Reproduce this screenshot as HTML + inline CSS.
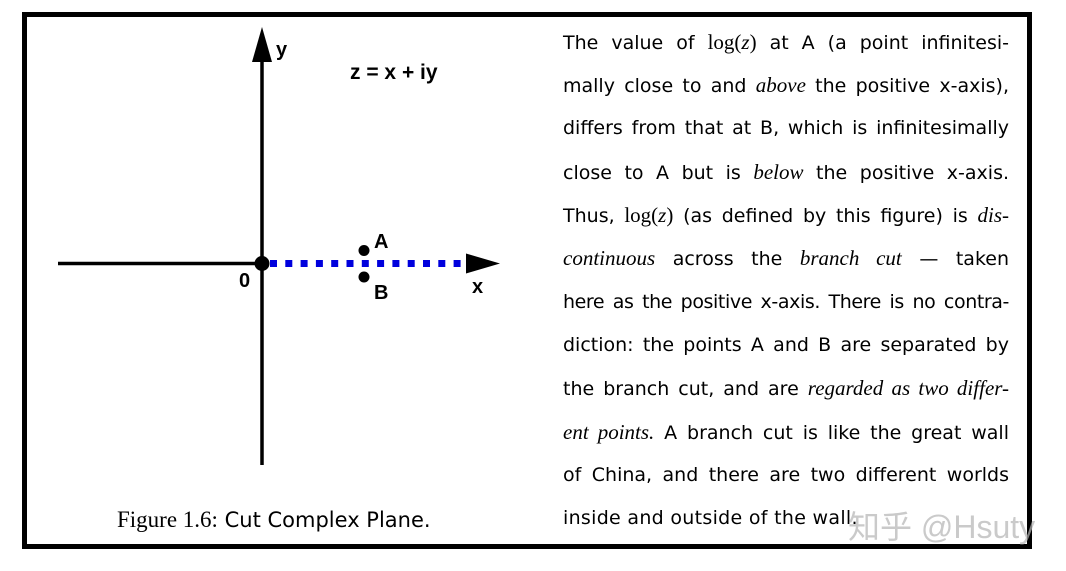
<!DOCTYPE html>
<html><head><meta charset="utf-8"><style>
html,body{margin:0;padding:0;background:#fff;width:1066px;height:571px;overflow:hidden;position:relative}
.frame{position:absolute;left:22px;top:12px;width:1000px;height:527px;border:5px solid #000}
.t{position:absolute;left:563px;width:446px;font-family:"DejaVu Sans","Liberation Sans",sans-serif;font-size:19px;color:#000;text-align:justify;text-align-last:justify;white-space:nowrap;line-height:24px}
.t i{font-family:"Liberation Serif",serif;font-size:21px}
.m{font-family:"Liberation Serif",serif;font-size:21px}
.lbl{position:absolute;font-family:"Liberation Sans",sans-serif;font-weight:bold;font-size:20px}
</style></head><body>
<div class="frame"></div>
<svg width="1066" height="571" style="position:absolute;left:0;top:0">
<line x1="262" y1="50" x2="262" y2="465" stroke="#000" stroke-width="3.5"/>
<polygon points="262,27 252,62 272,62" fill="#000"/>
<line x1="58" y1="263.5" x2="262" y2="263.5" stroke="#000" stroke-width="3.5"/>
<line x1="270" y1="263.5" x2="462" y2="263.5" stroke="#0000dd" stroke-width="7" stroke-dasharray="7,8.3"/>
<polygon points="500,263.5 466,253.5 466,273.5" fill="#000"/>
<circle cx="262" cy="263.5" r="7.5" fill="#000"/>
<circle cx="364" cy="250.5" r="5.5" fill="#000"/>
<circle cx="364" cy="277" r="5.5" fill="#000"/>
</svg>
<div class="lbl" style="left:276px;top:39px">y</div>
<div class="lbl" style="left:350px;top:61px;font-size:21px">z = x + iy</div>
<div class="lbl" style="left:374px;top:231px">A</div>
<div class="lbl" style="left:374px;top:282px">B</div>
<div class="lbl" style="left:239px;top:270px">0</div>
<div class="lbl" style="left:472px;top:276px">x</div>
<div style="position:absolute;left:117px;top:507px;font-family:'DejaVu Sans',sans-serif;font-size:21px;white-space:nowrap"><span class="m" style="font-size:23px">Figure 1.6:</span> Cut Complex Plane.</div>
<div class="t" style="top:30px">The value of <span class="m">log(<i>z</i>)</span> at A (a point infinitesi-</div>
<div class="t" style="top:73px">mally close to and <i>above</i> the positive x-axis),</div>
<div class="t" style="top:116px">differs from that at B, which is infinitesimally</div>
<div class="t" style="top:160px">close to A but is <i>below</i> the positive x-axis.</div>
<div class="t" style="top:203px">Thus, <span class="m">log(<i>z</i>)</span> (as defined by this figure) is <i>dis-</i></div>
<div class="t" style="top:246px"><i>continuous</i> across the <i>branch cut</i> — taken</div>
<div class="t" style="top:290px;letter-spacing:-0.4px">here as the positive x-axis. There is no contra-</div>
<div class="t" style="top:333px">diction: the points A and B are separated by</div>
<div class="t" style="top:376px">the branch cut, and are <i>regarded as two differ-</i></div>
<div class="t" style="top:420px"><i>ent points.</i> A branch cut is like the great wall</div>
<div class="t" style="top:463px">of China, and there are two different worlds</div>
<div class="t" style="top:506px;text-align-last:left;letter-spacing:0.3px">inside and outside of the wall.</div>
<div style="position:absolute;left:848px;top:502px;font-family:'Liberation Sans','Noto Sans CJK SC',sans-serif;font-size:32px;color:rgba(180,180,180,0.7);white-space:nowrap">知乎 @Hsuty</div>
</body></html>
